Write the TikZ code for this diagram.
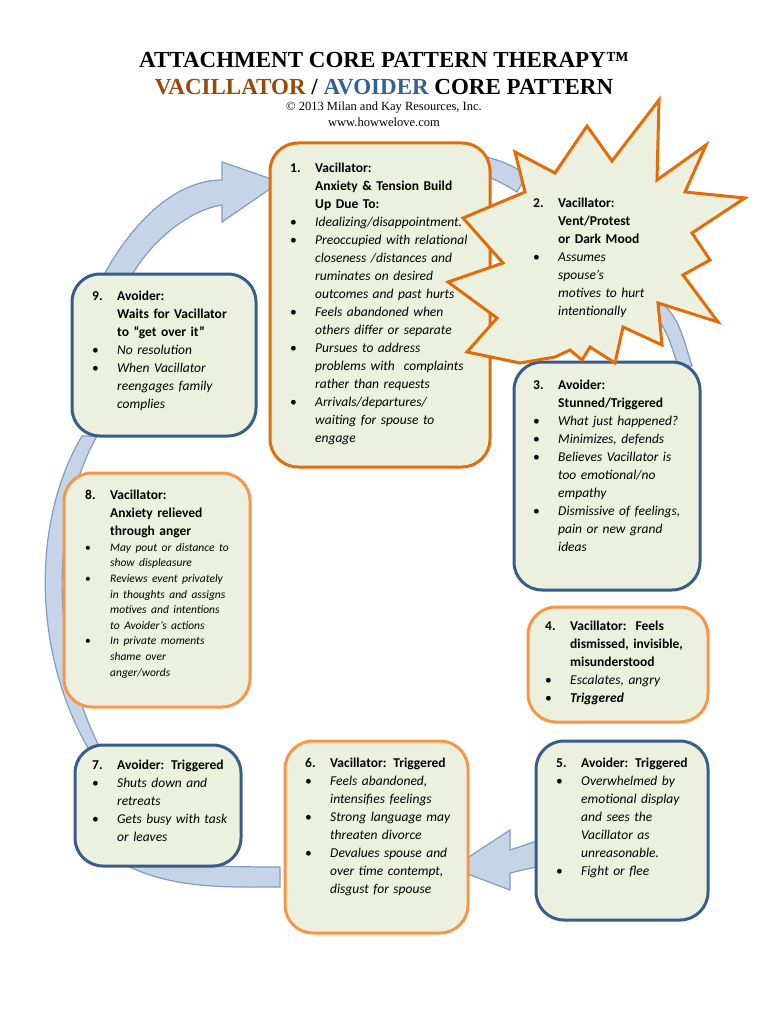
\documentclass[tikz,border=0pt]{standalone}
\usepackage{fontspec}
\setmainfont{Carlito}
\newfontfamily\serif{Liberation Serif}
\definecolor{orA}{HTML}{E36C09}
\definecolor{orB}{HTML}{F79646}
\definecolor{blB}{HTML}{385D8A}
\definecolor{boxfill}{HTML}{EBF1DE}
\definecolor{arrfill}{HTML}{C6D4E8}
\definecolor{arrline}{HTML}{7F9CC4}
\definecolor{vacc}{HTML}{984807}
\definecolor{avc}{HTML}{376092}
\newcommand\hd[2]{{\let\\\newline\bfseries\hangindent=25pt\hangafter=1\noindent\makebox[25pt][l]{#1}#2\par}}
\newcommand\itm[1]{{\let\\\newline\hangindent=25pt\hangafter=1\noindent\makebox[25pt][l]{\textbullet}\itshape #1\par}}
\begin{document}
\begin{tikzpicture}[x=1pt,y=-1pt,
  box/.style={draw,line width=3pt,fill=boxfill,rounded corners=28pt},
  obox/.style={box,draw=orB},
  bbox/.style={box,draw=blB},
  txt/.style={anchor=north west,inner sep=0pt,text width=210pt,font=\fontsize{13.5}{18}\selectfont\raggedright},
  arr/.style={fill=arrfill,draw=arrline,line width=1.2pt}]
\useasboundingbox (0,0) rectangle (768,1024);
% title
\node[font=\serif\bfseries\fontsize{23}{26}\selectfont] (t1) at (384,60) {ATTACHMENT CORE PATTERN THERAPY™};
\node[font=\serif\bfseries\fontsize{23}{26}\selectfont] (t2) at (384,87) {\textcolor{vacc}{VACILLATOR} / \textcolor{avc}{AVOIDER} CORE PATTERN};
\node[font=\serif\fontsize{12.5}{14}\selectfont] (t3) at (384,108) {© 2013 Milan and Kay Resources, Inc.};
\node[font=\serif\fontsize{12.5}{14}\selectfont] (t4) at (384,122) {www.howwelove.com};
% ring segments
\draw[arr] (100,282) .. controls (135,215) and (180,180) .. (222,180) -- (222,162) -- (280,182) -- (222,222) -- (222,205) .. controls (190,210) and (150,240) .. (128,282) -- cycle;
\draw[arr] (82,436) .. controls (32,520) and (32,650) .. (88,748) -- (100,748) .. controls (50,650) and (50,520) .. (97,436) -- cycle;
\draw[arr] (120,862) .. controls (170,890) and (230,887) .. (280,887) -- (280,867) .. controls (230,867) and (180,866) .. (160,858) -- cycle;
\draw[arr] (450,153) .. controls (480,153) and (505,160) .. (527,175) -- (517,192) .. controls (495,178) and (475,170) .. (450,170) -- cycle;
\draw[arr] (658,298) .. controls (678,320) .. (692,366) -- (678,366) .. controls (668,335) .. (652,308) -- cycle;
\draw[arr] (540,840) -- (510,850) -- (510,830) -- (452,868) -- (510,890) -- (510,873) -- (540,866) -- cycle;
% boxes
\node[box,draw=orA,minimum width=220pt,minimum height=324pt] (b1) at (380,305) {};
\node[bbox,minimum width=186pt,minimum height=228pt] (b3) at (607,476) {};
\node[obox,minimum width=180pt,minimum height=115pt] (b4) at (618,664.5) {};
\node[bbox,minimum width=172pt,minimum height=179pt] (b5) at (622,830.5) {};
\node[obox,minimum width=183pt,minimum height=192pt] (b6) at (376.5,837) {};
\node[bbox,minimum width=166pt,minimum height=121pt] (b7) at (158,805.5) {};
\node[obox,minimum width=186pt,minimum height=234pt] (b8) at (157,590) {};
\node[bbox,minimum width=184pt,minimum height=162pt] (b9) at (164,355) {};
% star
\draw[draw=orA,line width=3pt,fill=boxfill,line join=miter] (515,152) -- (555,173) -- (587,126) -- (612,161) -- (659,100) -- (657,180) -- (706,145) -- (685,192) -- (745,198) -- (692,233) -- (710,260) -- (683,275) -- (718,322) -- (658,303) -- (662,345) -- (623,327) -- (615,363) -- (590,347) -- (582,360) -- (570,350) -- (555,357) -- (520,363) -- (467,352) -- (497,318) -- (448,282) -- (503,263) -- (463,218) -- (525,192) -- cycle;
% texts
\node[txt] (x1) at (290,163) {\hd{1.}{Vacillator:\\Anxiety \& Tension Build\\Up Due To:}
\itm{Idealizing/disappointment.}
\itm{Preoccupied with relational\\closeness /distances and\\ruminates on desired\\outcomes and past hurts}
\itm{Feels abandoned when\\others differ or separate}
\itm{Pursues to address\\problems with \ complaints\\rather than requests}
\itm{Arrivals/departures/\\waiting for spouse to\\engage}};
\node[txt] (x2) at (533,198) {\hd{2.}{Vacillator:\\Vent/Protest\\or Dark Mood}
\itm{Assumes\\spouse’s\\motives to hurt\\intentionally}};
\node[txt] (x3) at (533,380) {\hd{3.}{Avoider:\\Stunned/Triggered}
\itm{What just happened?}
\itm{Minimizes, defends}
\itm{Believes Vacillator is\\too emotional/no\\empathy}
\itm{Dismissive of feelings,\\pain or new grand\\ideas}};
\node[txt] (x4) at (545,621) {\hd{4.}{Vacillator:\ \ Feels\\dismissed, invisible,\\misunderstood}
\itm{Escalates, angry}
\itm{\bfseries Triggered}};
\node[txt] (x5) at (556,758) {\hd{5.}{Avoider: Triggered}
\itm{Overwhelmed by\\emotional display\\and sees the\\Vacillator as\\unreasonable.}
\itm{Fight or flee}};
\node[txt] (x6) at (305,758) {\hd{6.}{Vacillator: Triggered}
\itm{Feels abandoned,\\intensifies feelings}
\itm{Strong language may\\threaten divorce}
\itm{Devalues spouse and\\over time contempt,\\disgust for spouse}};
\node[txt] (x7) at (92,760) {\hd{7.}{Avoider: Triggered}
\itm{Shuts down and\\retreats}
\itm{Gets busy with task\\or leaves}};
\node[txt] (x8) at (85,490) {\hd{8.}{Vacillator:\\Anxiety relieved\\through anger}
{\fontsize{11.5}{15.6}\selectfont
\itm{May pout or distance to\\show displeasure}
\itm{Reviews event privately\\in thoughts and assigns\\motives and intentions\\to Avoider’s actions}
\itm{In private moments\\shame over\\anger/words}}};
\node[txt] (x9) at (92,291) {\hd{9.}{Avoider:\\Waits for Vacillator\\to “get over it”}
\itm{No resolution}
\itm{When Vacillator\\reengages family\\complies}};
\end{tikzpicture}
\end{document}
